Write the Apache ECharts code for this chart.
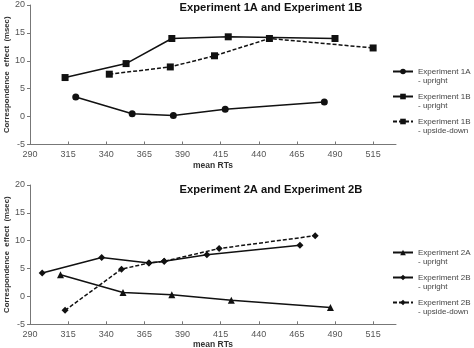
<!DOCTYPE html>
<html><head><meta charset="utf-8">
<script src="https://cdn.jsdelivr.net/npm/echarts@6/dist/echarts.min.js"></script>
<style>html,body{margin:0;padding:0;background:#fff}#c{width:474px;height:348px}</style>
</head><body><div id="c"></div>
<script>
// ---- data ----
const titles = ['Experiment 1A and Experiment 1B', 'Experiment 2A and Experiment 2B'];
const xTicks = [290, 315, 340, 365, 390, 415, 440, 465, 490, 515];
const yTicks = [-5, 0, 5, 10, 15, 20];

const exp1A_up_x = [320, 357, 384, 418, 483];
const exp1A_up_y = [3.5, 0.5, 0.2, 1.3, 2.6];
const exp1B_up_x = [313, 353, 383, 420, 490];
const exp1B_up_y = [7.0, 9.5, 14.0, 14.3, 14.0];
const exp1B_down_x = [342, 382, 411, 447, 515];
const exp1B_down_y = [7.6, 8.9, 10.9, 14.0, 12.3];

const exp2A_up_x = [310, 351, 383, 422, 487];
const exp2A_up_y = [3.9, 0.7, 0.3, -0.7, -2.0];
const exp2B_up_x = [298, 337, 368, 378, 406, 467];
const exp2B_up_y = [4.2, 7.0, 6.0, 6.3, 7.5, 9.2];
const exp2B_down_x = [313, 350, 368, 378, 414, 477];
const exp2B_down_y = [-2.5, 4.9, 6.0, 6.3, 8.6, 10.9];

const names = [
  'Experiment 1A\n- upright', 'Experiment 1B\n- upright', 'Experiment 1B\n- upside-down',
  'Experiment 2A\n- upright', 'Experiment 2B\n- upright', 'Experiment 2B\n- upside-down'
];

function pairs(xs, ys) { return xs.map((x, i) => [x, ys[i]]); }

const FONT = 'Liberation Sans, Arial, sans-serif';
const INK = '#111';

function xAxisCfg(idx) {
  return {
    type: 'value', gridIndex: idx, min: xTicks[0], max: 530, interval: 25,
    name: 'mean RTs', nameLocation: 'middle', nameGap: idx === 0 ? 16.5 : 15.5, nameMoveOverlap: false,
    nameTextStyle: { fontFamily: FONT, fontWeight: 'bold', fontSize: 8.5, color: '#333' },
    axisLine: { show: true, onZero: false, lineStyle: { color: '#777', width: 1 } },
    axisTick: { show: true, inside: true, length: 3, lineStyle: { color: '#777' } },
    axisLabel: { fontFamily: FONT, fontSize: 9, color: '#555', margin: 6, showMaxLabel: false,
      formatter: v => (xTicks.indexOf(v) >= 0 ? String(v) : '') },
    splitLine: { show: false }
  };
}
function yAxisCfg(idx) {
  return {
    type: 'value', gridIndex: idx, min: yTicks[0], max: yTicks[yTicks.length - 1], interval: 5,
    name: 'Correspondence  effect  (msec)', nameLocation: 'middle', nameGap: 19.5, nameMoveOverlap: false,
    nameTextStyle: { fontFamily: FONT, fontWeight: 'bold', fontSize: 7.8, color: '#333' },
    axisLine: { show: true, onZero: false, lineStyle: { color: '#777', width: 1 } },
    axisTick: { show: true, inside: false, length: 3, lineStyle: { color: '#777' } },
    axisLabel: { fontFamily: FONT, fontSize: 9, color: '#555', margin: 5 },
    splitLine: { show: false }
  };
}
function lineSeries(name, xi, data, symbol, size, dashed) {
  return {
    name: name, type: 'line', xAxisIndex: xi, yAxisIndex: xi, data: data,
    symbol: symbol, symbolSize: size, showSymbol: true,
    itemStyle: { color: INK },
    lineStyle: { color: INK, width: 1.5, type: dashed ? [4, 2] : 'solid' },
    emphasis: { disabled: true }, animation: false
  };
}
const legendText = { fontFamily: FONT, fontSize: 8, color: '#444', lineHeight: 9 };
function legendCfg(list, top) {
  return { data: list, orient: 'vertical', left: 392, top: top, padding: 0,
    itemWidth: 20, itemHeight: 7, itemGap: -2, textStyle: legendText, selectedMode: false,
    formatter: n => '\n' + n };
}

const option = {
  animation: false,
  title: [
    { text: titles[0], left: 271, top: 2, padding: 0, textAlign: 'center',
      textStyle: { fontFamily: FONT, fontWeight: 'bold', fontSize: 11.2, color: '#111' } },
    { text: titles[1], left: 271, top: 184, padding: 0, textAlign: 'center',
      textStyle: { fontFamily: FONT, fontWeight: 'bold', fontSize: 11.2, color: '#111' } }
  ],
  grid: [
    { left: 30, top: 5, width: 366, height: 139.5, outerBoundsMode: 'none', containLabel: false },
    { left: 30, top: 185, width: 366, height: 139.3, outerBoundsMode: 'none', containLabel: false }
  ],
  xAxis: [xAxisCfg(0), xAxisCfg(1)],
  yAxis: [yAxisCfg(0), yAxisCfg(1)],
  legend: [legendCfg(names.slice(0, 3), 58), legendCfg(names.slice(3, 6), 239)],
  series: [
    lineSeries(names[0], 0, pairs(exp1A_up_x, exp1A_up_y), 'circle', 7, false),
    lineSeries(names[1], 0, pairs(exp1B_up_x, exp1B_up_y), 'rect', 7, false),
    lineSeries(names[2], 0, pairs(exp1B_down_x, exp1B_down_y), 'rect', 7, true),
    lineSeries(names[3], 1, pairs(exp2A_up_x, exp2A_up_y), 'triangle', 7, false),
    lineSeries(names[4], 1, pairs(exp2B_up_x, exp2B_up_y), 'diamond', 7, false),
    lineSeries(names[5], 1, pairs(exp2B_down_x, exp2B_down_y), 'diamond', 7, true)
  ]
};
echarts.init(document.getElementById('c'), null, { renderer: 'canvas' }).setOption(option);
</script></body></html>
